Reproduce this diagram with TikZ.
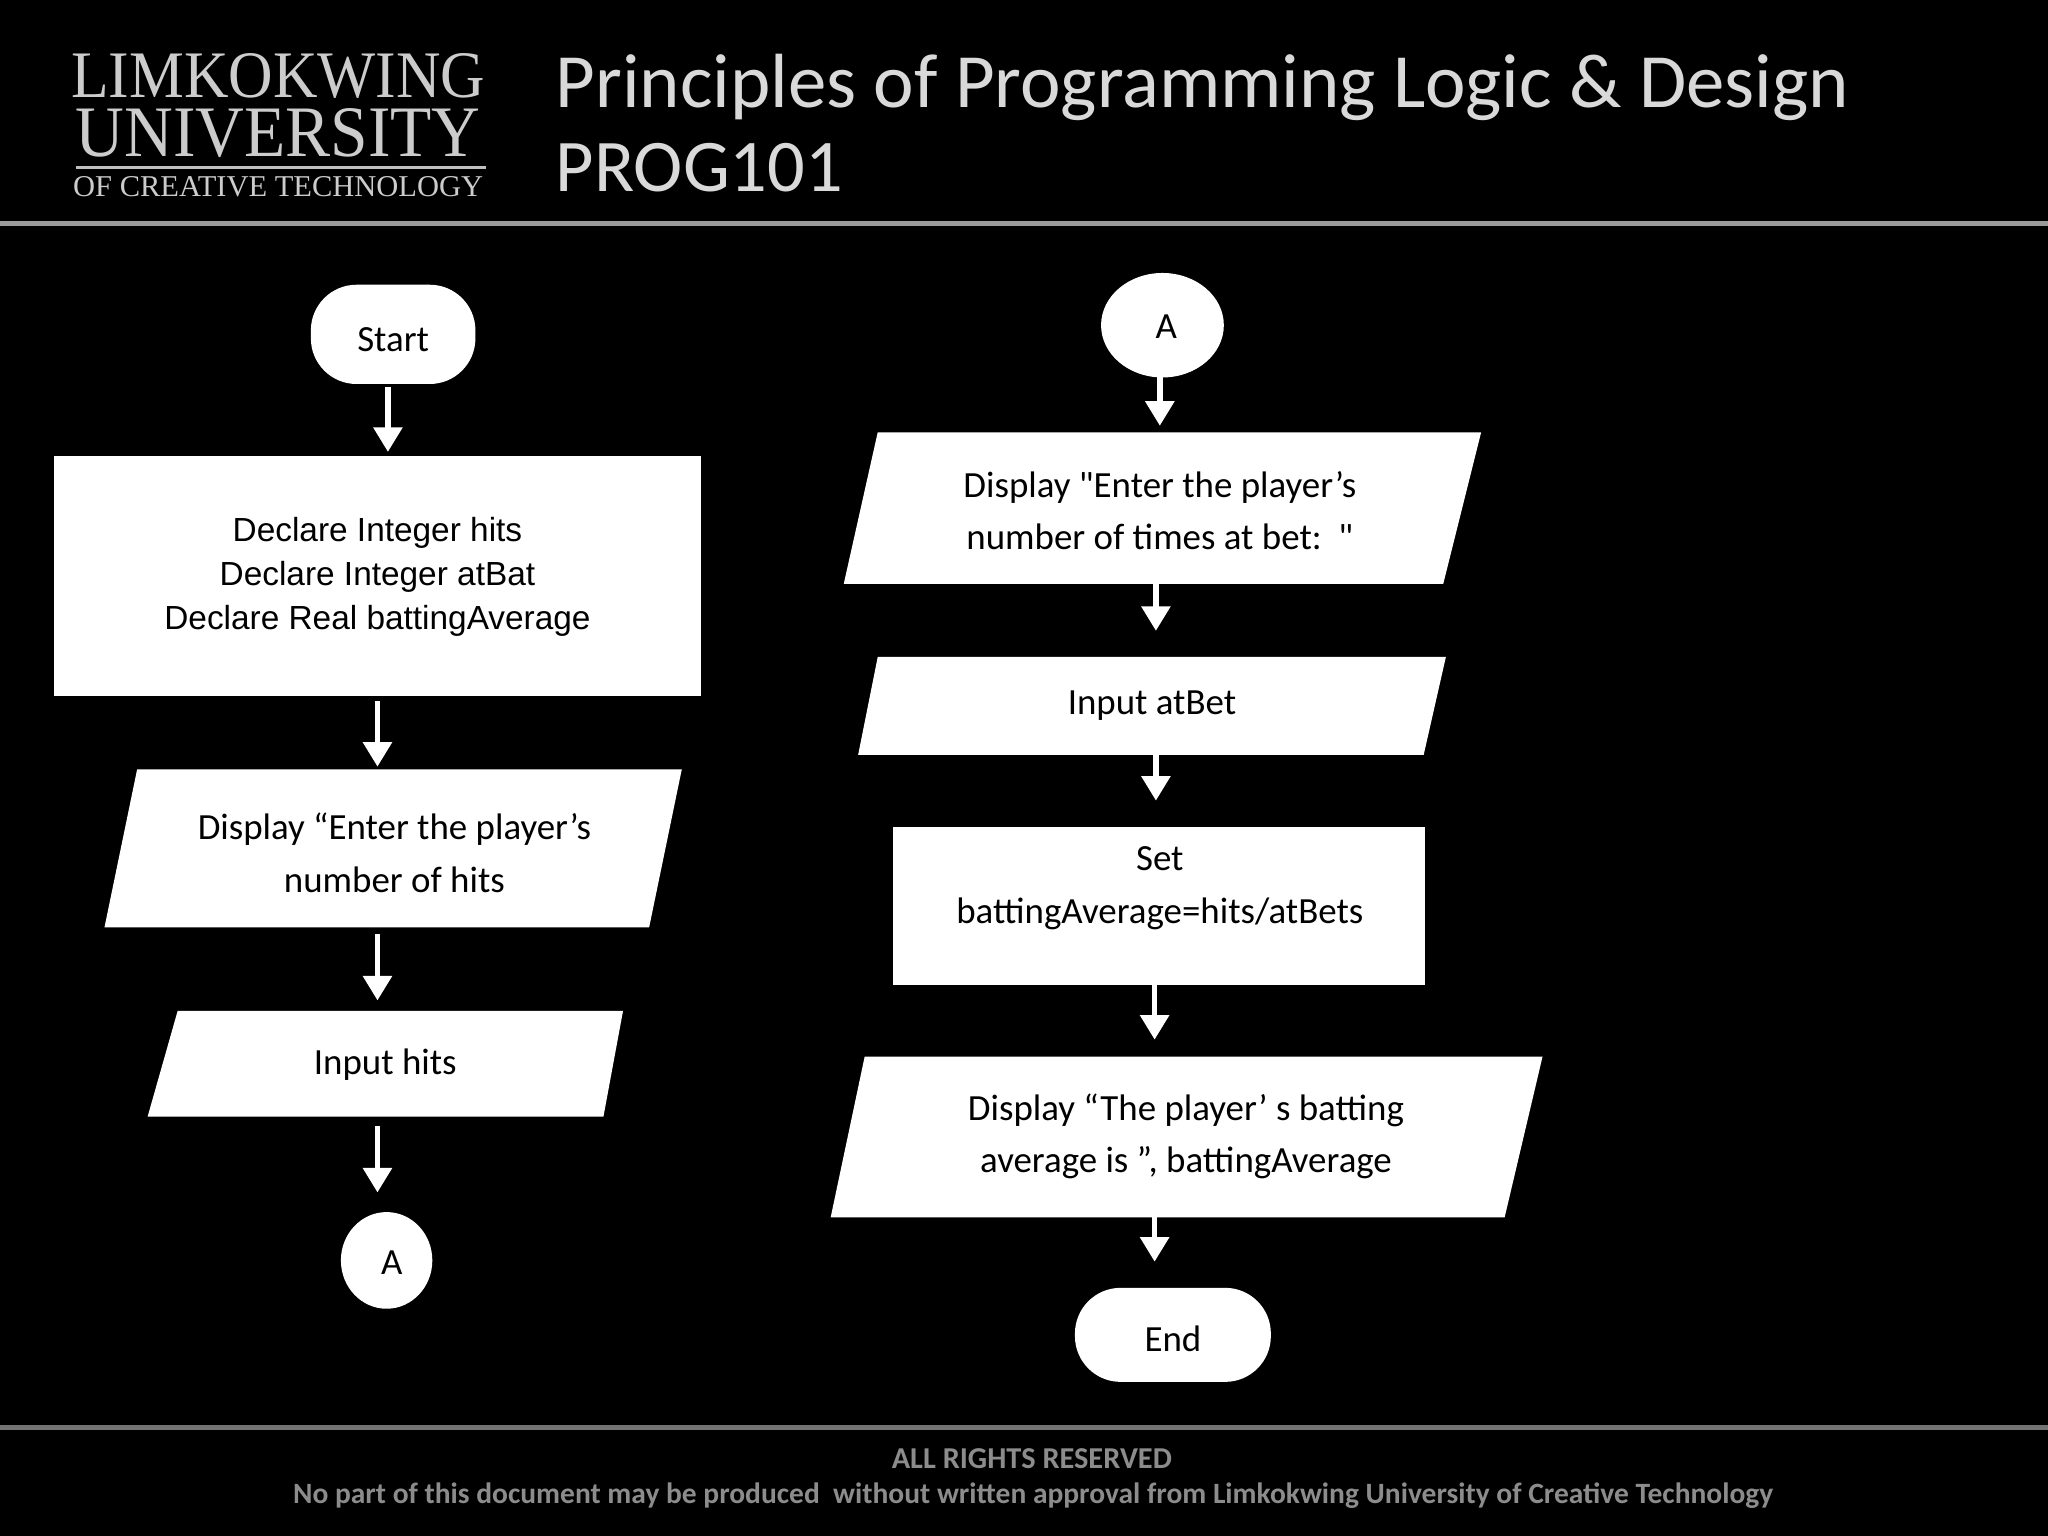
\documentclass[tikz,border=0pt]{standalone}
\usepackage{fontspec}
\setmainfont{Carlito}
\newfontfamily\arialf{Liberation Sans}
\newfontfamily\logof{Liberation Serif}
\newcommand\sq{\XeTeXglyph\XeTeXcharglyph"22\relax}
\usetikzlibrary{arrows.meta}
\begin{document}
\begin{tikzpicture}[x=0.013061cm,y=-0.013061cm,
  txt/.style={text=black,align=center,font=\fontsize{10.5}{15}\selectfont},
  arr/.style={draw=white,line width=1.6pt,-{Triangle[length=7pt,width=8pt]}},
  rnd/.style={fill=white,rounded corners=13pt}]
\fill[black] (0,0) rectangle (1568,1176);
\useasboundingbox (0,0) rectangle (1568,1176);
% header
\node[text=white!80!black,inner sep=0,anchor=center] (logo1) at (213,58) {\logof\resizebox{4.14cm}{0.44cm}{LIMKOKWING}};
\node[text=white!80!black,inner sep=0,anchor=center] (logo2) at (213,102) {\logof\resizebox{4.05cm}{0.48cm}{UNIVERSITY}};
\draw[white!75!black,line width=0.8pt] (58,128) -- (372,128);
\node[text=white!80!black,inner sep=0,anchor=center] (logo3) at (213,143) {\logof\resizebox{4.1cm}{0.2cm}{OF CREATIVE TECHNOLOGY}};
\node[text=white!85!black,inner sep=0,anchor=west] (t1) at (425,67) {\resizebox{12.93cm}{!}{Principles of Programming Logic \& Design}};
\node[text=white!85!black,inner sep=0,anchor=west] (t2) at (425,128) {\resizebox{2.87cm}{!}{PROG101}};
\draw[white!60!black,line width=1.5pt] (0,171) -- (1568,171);
\draw[white!45!black,line width=1.5pt] (0,1093) -- (1568,1093);
\node[text=white!55!black,inner sep=0] (f1) at (790,1117) {\resizebox{2.8cm}{!}{\bfseries ALL RIGHTS RESERVED}};
\node[text=white!55!black,inner sep=0] (f2) at (791,1145) {\resizebox{14.8cm}{!}{\bfseries No part of this document may be produced\ \ without written approval from Limkokwing University of Creative Technology}};
% left column
\fill[rnd] (238,218) rectangle (364,294);
\node[txt] (start) at (301,260) {Start};
\fill[white] (41,349) rectangle (537,533);
\node[txt,font=\arialf\fontsize{9.5}{12.5}\selectfont] (decl) at (289,442) {Declare Integer hits\\Declare Integer atBat\\Declare Real battingAverage};
\fill[white] (105,589) -- (522,589) -- (497,710) -- (80,710) -- cycle;
\node[txt] (disp1) at (302,653) {Display “Enter the player’s\\number of hits};
\fill[white] (136,774) -- (477,774) -- (462,855) -- (113,855) -- cycle;
\node[txt] (in1) at (295,815) {Input hits};
\fill[white] (296,965) ellipse (35 and 37);
\node[txt] (A1) at (300,967) {A};
\coordinate (a1s) at (297,296); \coordinate (a1e) at (297,346);
\coordinate (a2s) at (289,537); \coordinate (a2e) at (289,587);
\coordinate (a3s) at (289,715); \coordinate (a3e) at (289,766);
\coordinate (a4s) at (289,862); \coordinate (a4e) at (289,913);
\draw[arr] (a1s) -- (a1e);
\draw[arr] (a2s) -- (a2e);
\draw[arr] (a3s) -- (a3e);
\draw[arr] (a4s) -- (a4e);
% right column
\fill[white] (890,249) ellipse (47 and 40);
\node[txt] (A2) at (893,250) {A};
\fill[white] (672,331) -- (1134,331) -- (1105,447) -- (646,447) -- cycle;
\node[txt] (disp2) at (888,391) {Display \sq Enter the player’s\\number of times at bet:\ \ \sq};
\fill[white] (672,503) -- (1107,503) -- (1090,578) -- (657,578) -- cycle;
\node[txt] (in2) at (882,540) {Input atBet};
\fill[white] (684,633) rectangle (1091,754);
\node[txt] (set) at (888,680) {Set\\battingAverage=hits/atBets};
\fill[white] (662,809) -- (1181,809) -- (1152,932) -- (636,932) -- cycle;
\node[txt] (disp3) at (908,870) {Display “The player’ s batting\\average is ”, battingAverage};
\fill[rnd] (823,986) rectangle (973,1058);
\node[txt] (end) at (898,1025) {End};
\coordinate (b1s) at (888,278); \coordinate (b1e) at (888,326);
\coordinate (b2s) at (885,437); \coordinate (b2e) at (885,483);
\coordinate (b3s) at (885,565); \coordinate (b3e) at (885,613);
\coordinate (b4s) at (884,748); \coordinate (b4e) at (884,796);
\coordinate (b5s) at (884,918); \coordinate (b5e) at (884,966);
\draw[arr] (b1s) -- (b1e);
\draw[arr] (b2s) -- (b2e);
\draw[arr] (b3s) -- (b3e);
\draw[arr] (b4s) -- (b4e);
\draw[arr] (b5s) -- (b5e);
\end{tikzpicture}
\end{document}
